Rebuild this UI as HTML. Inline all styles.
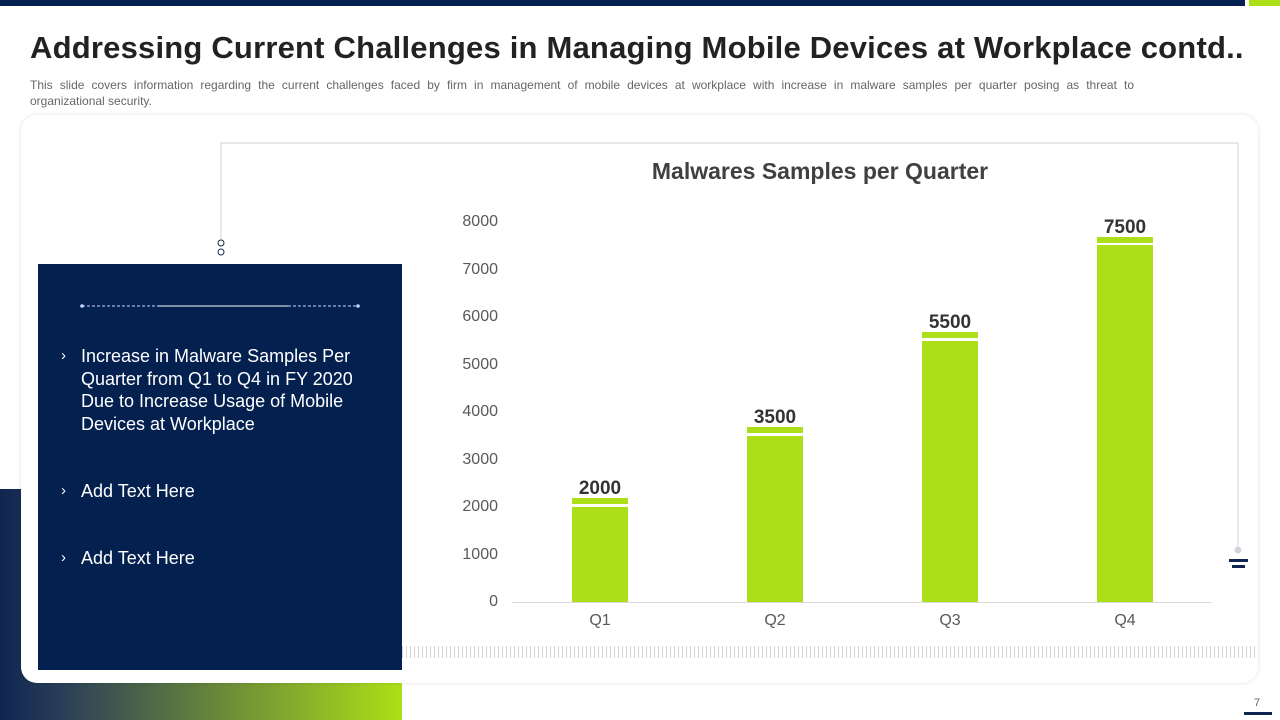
<!DOCTYPE html>
<html><head><meta charset="utf-8"><style>
body{margin:0;width:1280px;height:720px;position:relative;overflow:hidden;background:#fff;font-family:"Liberation Sans",sans-serif}
div{position:absolute;box-sizing:border-box}
.t{font-size:16px;color:#595959;width:40px;text-align:right;left:458px}
.q{font-size:16px;color:#595959;width:60px;text-align:center;top:612px}
.v{font-size:19px;font-weight:bold;color:#333;width:80px;text-align:center}
.bar{background:#acdf17;width:56px}
.li{color:#fff;font-size:18px;left:81px;width:300px;line-height:22.5px}
.ar{color:#fff;font-size:15px;left:61px}
</style></head><body>
<div style="left:0;top:0;width:1245px;height:6px;background:#03204f"></div>
<div style="left:1249px;top:0;width:31px;height:6px;background:#acdf17"></div>
<div style="left:30px;top:30px;font-size:31px;font-weight:bold;color:#222;white-space:nowrap;letter-spacing:0.2px">Addressing Current Challenges in Managing Mobile Devices at Workplace contd..</div>
<div style="left:30px;top:77px;width:1104px;font-size:12px;color:#666;line-height:16px;text-align:justify;text-align-last:justify;white-space:nowrap">This slide covers information regarding the current challenges faced by firm in management of mobile devices at workplace with increase in malware samples per quarter posing as threat to</div>
<div style="left:30px;top:93px;font-size:12px;color:#666;line-height:16px">organizational security.</div>
<div style="left:0;top:489px;width:402px;height:231px;background:linear-gradient(90deg,#0e2550 0%,#2a3d58 15%,#6a8a3a 55%,#acdf17 100%)"></div>
<div style="left:21px;top:115px;width:1237px;height:568px;background:#fff;border-radius:16px;box-shadow:0 0 4px rgba(0,0,0,0.12)"></div>
<div style="left:402px;top:646px;width:856px;height:12px;background:repeating-linear-gradient(90deg,#d6d6d6 0 1px,transparent 1px 4px)"></div>
<svg style="position:absolute;left:0;top:0" width="1280" height="720">
<polyline points="221,240 221,143 1238,143 1238,546" fill="none" stroke="#d0d0d0" stroke-width="1"/>
<circle cx="221" cy="243" r="3" fill="#fff" stroke="#1a2a4a" stroke-width="1"/>
<circle cx="221" cy="252" r="3" fill="#fff" stroke="#1a2a4a" stroke-width="1"/>
<circle cx="1238" cy="550" r="3.5" fill="#d0d4dc"/>
<rect x="1229" y="559" width="19" height="3" fill="#0e2550"/>
<rect x="1232" y="565" width="13" height="3" fill="#0e2550"/>
<line x1="512" y1="602.5" x2="1212" y2="602.5" stroke="#d9d9d9"/>
<rect x="1244" y="712" width="28" height="3" fill="#0e2550"/>
</svg>
<div style="left:1250px;top:697px;font-size:11px;color:#666;width:14px;text-align:center">7</div>
<div style="left:520px;top:158px;width:600px;text-align:center;font-size:23px;font-weight:bold;color:#404040">Malwares Samples per Quarter</div>
<div class="t" style="top:213px">8000</div><div class="t" style="top:261px">7000</div><div class="t" style="top:308px">6000</div><div class="t" style="top:356px">5000</div><div class="t" style="top:403px">4000</div><div class="t" style="top:451px">3000</div><div class="t" style="top:498px">2000</div><div class="t" style="top:546px">1000</div><div class="t" style="top:593px">0</div>
<div class="bar" style="left:572px;top:498px;height:6px"></div><div class="bar" style="left:572px;top:507px;height:95px"></div>
<div class="bar" style="left:747px;top:427px;height:6px"></div><div class="bar" style="left:747px;top:436px;height:166px"></div>
<div class="bar" style="left:922px;top:332px;height:6px"></div><div class="bar" style="left:922px;top:341px;height:261px"></div>
<div class="bar" style="left:1097px;top:237px;height:6px"></div><div class="bar" style="left:1097px;top:245px;height:357px"></div>
<div class="v" style="left:560px;top:478px">2000</div><div class="v" style="left:735px;top:407px">3500</div><div class="v" style="left:910px;top:312px">5500</div><div class="v" style="left:1085px;top:217px">7500</div>
<div class="q" style="left:570px">Q1</div><div class="q" style="left:745px">Q2</div><div class="q" style="left:920px">Q3</div><div class="q" style="left:1095px">Q4</div>
<div style="left:38px;top:264px;width:364px;height:406px;background:#03204f"></div>
<svg style="position:absolute;left:0;top:0" width="1280" height="720">
<line x1="82" y1="306" x2="158" y2="306" stroke="#c8d4ff" stroke-dasharray="3,2"/>
<line x1="158" y1="306" x2="288" y2="306" stroke="#fff"/>
<line x1="288" y1="306" x2="358" y2="306" stroke="#c8d4ff" stroke-dasharray="3,2"/>
<circle cx="82" cy="306" r="1.8" fill="#c8d4ff"/><circle cx="358" cy="306" r="1.8" fill="#c8d4ff"/>
</svg>
<div class="ar" style="top:347px">›</div>
<div class="li" style="top:345px">Increase in Malware Samples Per Quarter from Q1 to Q4 in FY 2020 Due to Increase Usage of Mobile Devices at Workplace</div>
<div class="ar" style="top:482px">›</div><div class="li" style="top:480px">Add Text Here</div>
<div class="ar" style="top:549px">›</div><div class="li" style="top:547px">Add Text Here</div>
</body></html>
